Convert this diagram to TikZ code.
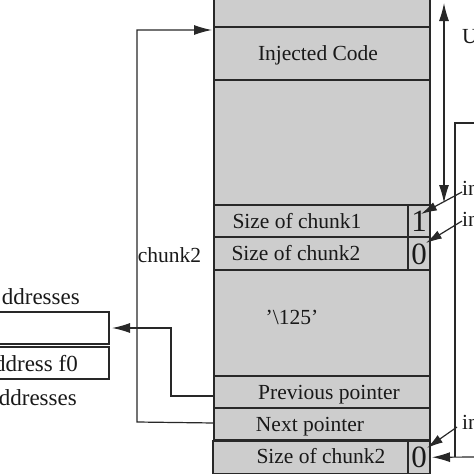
\documentclass[tikz,border=0pt]{standalone}
\usepackage{fontspec}
\setmainfont{Liberation Serif}
\usetikzlibrary{arrows.meta}
\definecolor{cellgray}{RGB}{205,205,205}
\definecolor{ink}{RGB}{40,40,40}
\begin{document}
\begin{tikzpicture}[x=1pt,y=-1pt,
  cell/.style={draw=ink, line width=1.3pt, fill=cellgray, minimum width=216pt, inner sep=0pt, outer sep=0pt},
  small/.style={draw=ink, line width=1.3pt, fill=cellgray, minimum width=22pt, inner sep=0pt, outer sep=0pt},
  wbox/.style={draw=ink, line width=1.3pt, fill=white, minimum width=130pt, minimum height=32pt, inner sep=0pt, outer sep=0pt},
  lbl/.style={font=\fontsize{21.5}{24}\selectfont, inner sep=0pt, anchor=base, text=black!90},
  llbl/.style={font=\fontsize{23}{26}\selectfont, inner sep=0pt, anchor=base east, text=black!90},
  dig/.style={font=\fontsize{31}{34}\selectfont, inner sep=0pt, anchor=base, text=black!90},
  conn/.style={draw=ink, line width=1.2pt},
  arr/.style={conn, -{Latex[length=18pt,width=10pt]}},
  arrs/.style={conn, -{Latex[length=16pt,width=9pt]}},
  dbl/.style={conn, {Latex[length=18pt,width=10pt]}-{Latex[length=18pt,width=10pt]}}
]
\useasboundingbox (0,0) rectangle (474,474);
\clip (0,0) rectangle (474,474);

% main column
\node[cell, minimum height=32pt] (top) at (322,11) {};
\node[cell, minimum height=53pt] (inj) at (322,53.5) {};
\node[cell, minimum height=125pt] (blank) at (322,142.5) {};
\node[cell, minimum height=32pt] (c1) at (322,221) {};
\node[cell, minimum height=33pt] (c2) at (322,253.5) {};
\node[cell, minimum height=106pt] (v125) at (322,323) {};
\node[cell, minimum height=32pt] (prev) at (322,392) {};
\node[cell, minimum height=32pt] (next) at (322,424) {};
\node[cell, minimum width=217pt, minimum height=32.5pt] (bot) at (321.5,457.25) {};
\node[small, minimum height=32pt] (s1) at (419,221) {};
\node[small, minimum height=33pt] (s2) at (419,253.5) {};
\node[small, minimum height=32.5pt] (s3) at (419,457.25) {};

% texts in column
\node[lbl] (tinj) at (318,60) {Injected Code};
\node[lbl] (tc1) at (297,228.5) {Size of chunk1};
\node[lbl] (tc2) at (296,260.5) {Size of chunk2};
\node[lbl] (t125) at (292,324) {’\textbackslash125’};
\node[lbl] (tprev) at (329,399) {Previous pointer};
\node[lbl] (tnext) at (310,431) {Next pointer};
\node[lbl] (tbot) at (321,463) {Size of chunk2};
\node[dig] (d1) at (419,231) {1};
\node[dig] (d2) at (419,264) {0};
\node[dig] (d3) at (419,467.5) {0};

% left boxes
\node[wbox] (lb1) at (44,328) {};
\node[wbox] (lb2) at (44,363) {};
\node[llbl] (la1) at (80,304) {ddresses};
\node[llbl] (la2) at (78,371) {ddress f0};
\node[llbl] (la3) at (77,405) {ddresses};

% chunk2 loop
\node[lbl] (tch) at (169.5,262) {chunk2};
\coordinate (lpb) at (137,422);
\coordinate (lpt) at (137,30);
\draw[arr] ([yshift=1pt]next.west) -- (lpb) -- (lpt) -- ([xshift=-2pt,yshift=23.5pt]inj.west);

% previous pointer arrow
\coordinate (pk) at (171,396);
\draw[arr] ([yshift=-4pt]prev.west) -- (pk) |- ([xshift=3pt]lb1.east);

% right side
\coordinate (ua) at (444,3);
\coordinate (ub) at (444,203);
\draw[dbl] (ua) -- (ub);
\node[lbl, anchor=base west] (tu) at (462,43) {U};
\coordinate (rr) at (480,123);
\coordinate (rc) at (455,123);
\coordinate (rb) at (455,457);
\draw[conn] (rr) -- (rc) -- (rb);
\coordinate (re) at (480,457);
\draw[arr] (re) -- ([xshift=2pt]s3.east);

\node[lbl, anchor=base west] (in1) at (462,195) {in};
\node[lbl, anchor=base west] (in2) at (462,226) {in};
\node[lbl, anchor=base west] (in3) at (462,429) {in};
\draw[arrs] ([yshift=3pt]in1.base west) -- ([xshift=-9pt,yshift=-9pt]s1.north east);
\draw[arrs] ([yshift=5pt]in2.base west) -- ([xshift=-4pt,yshift=-6pt]s2.north east);
\draw[arrs] ([xshift=-5pt,yshift=2pt]in3.base west) -- ([xshift=-3pt,yshift=-7pt]s3.north east);
\end{tikzpicture}
\end{document}
